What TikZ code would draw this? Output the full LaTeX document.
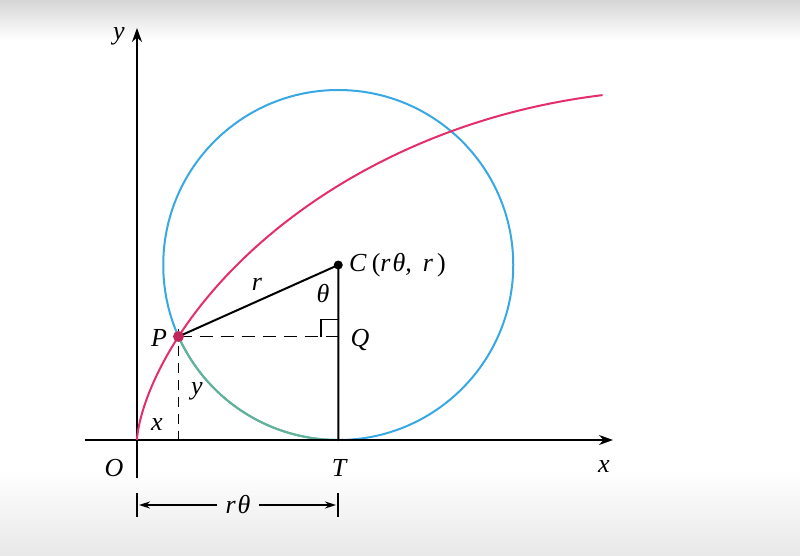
\documentclass[tikz,border=0pt]{standalone}
\usepackage{fontspec}
\setmainfont{Liberation Serif}
\usetikzlibrary{arrows.meta}
\definecolor{cycred}{RGB}{228,45,105}
\definecolor{circblue}{RGB}{55,168,228}
\definecolor{arcgreen}{RGB}{100,178,145}
\begin{document}
\begin{tikzpicture}[x=1pt,y=-1pt,
  font=\fontsize{26}{29}\selectfont\itshape,
  axis/.style={line width=2pt,-{Stealth[length=14pt,width=10pt]}},
  lbl/.style={inner sep=0pt},
  dimline/.style={line width=1.6pt,-{Stealth[length=11pt,width=7pt]}},
  dashline/.style={line width=1.8pt,dash pattern=on 13pt off 8pt},
  blk/.style={line width=2pt}]
\useasboundingbox (0,0) rectangle (800,555);
\shade[top color=black!16, bottom color=white] (0,0) rectangle (800,40);
\shade[top color=white, bottom color=black!9] (0,470) rectangle (800,555);

\coordinate (O) at (137,440);
\coordinate (C) at (338.25,265);
\coordinate (T) at (338.25,440);
\coordinate (P) at (178.5,336.5);
\coordinate (Q) at (338.25,336.5);
\coordinate (Pfoot) at (178.5,440);
\coordinate (ytop) at (137,28);
\coordinate (ybot) at (137,478);
\coordinate (xleft) at (85,440);
\coordinate (xright) at (613,440);

% circle
\draw[circblue,line width=2pt] (C) circle[radius=175];
\draw[arcgreen,line width=2pt] (T) arc[start angle=90,end angle=155.9,radius=175];

% axes
\draw[axis] (ybot) -- (ytop);
\draw[axis] (xleft) -- (xright);

% cycloid
\draw[cycred,line width=2pt,domain=0:2.9,samples=120,variable=\t]
  plot ({137+175*(\t - sin(\t r))},{440-175*(1-cos(\t r))});

% triangle
\draw[blk] (P) -- (C) -- (T);
\draw[dashline] (P) -- (Q);
\draw[line width=1.6pt,dash pattern=on 10pt off 7pt] ([yshift=8]P) -- (Pfoot);
\draw[line width=1.6pt] ([xshift=-17]Q) -- ++(0,-17) -- ++(17,0);

% dots
\fill[black] (C) circle[radius=4.5];
\fill[cycred!85!black] (P) circle[radius=5.5];

% dimension
\coordinate (d1t) at (137,493);
\coordinate (d1b) at (137,517);
\coordinate (d2t) at (338,493);
\coordinate (d2b) at (338,517);
\draw[line width=1.6pt] (d1t) -- (d1b);
\draw[line width=1.6pt] (d2t) -- (d2b);
\node[lbl] (rt) at (238,505) {r\hspace{2pt}θ};
\coordinate (dL) at (139,505);
\coordinate (dR) at (336,505);
\draw[dimline] ([xshift=-8]rt.west) -- (dL);
\draw[dimline] ([xshift=8]rt.east) -- (dR);

% labels
\node[lbl] (ly) at (119,36) {y};
\node[lbl] (lx) at (604,467) {x};
\node[lbl] (lO) at (114,468) {O};
\node[lbl] (lT) at (339,468) {T};
\node[lbl] (lP) at (159,338) {P};
\node[lbl] (lQ) at (360,340) {Q};
\node[lbl,anchor=west] (lC) at (349,265) {C\hspace{5pt}\textup{(}r\hspace{2pt}θ,\hspace{11pt}r\hspace{4pt}\textup{)}};
\node[lbl] (lth) at (323,294) {θ};
\node[lbl] (lr) at (257,284) {r};
\node[lbl] (lxx) at (157,425) {x};
\node[lbl] (lyy) at (197,391) {y};
\end{tikzpicture}
\end{document}
